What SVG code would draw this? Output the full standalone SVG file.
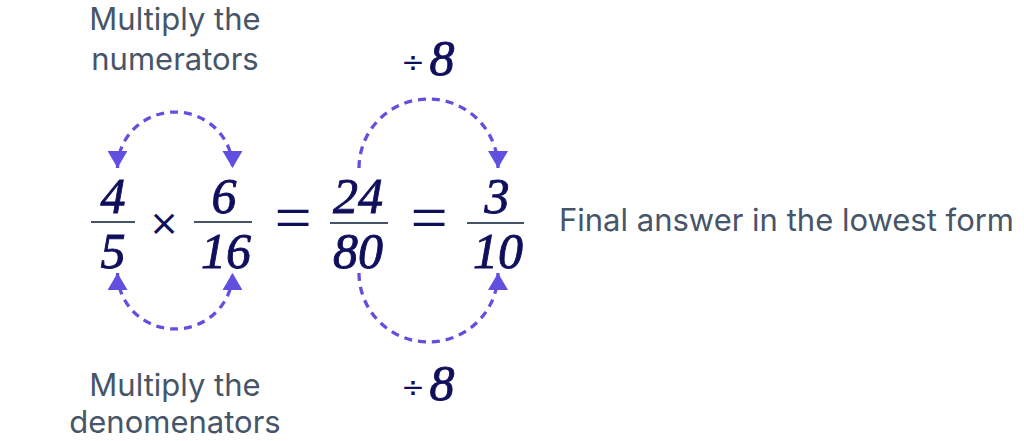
<svg xmlns="http://www.w3.org/2000/svg" width="1024" height="441" viewBox="0 0 1024 441">
<style>
.lbl{font-family:Inter,"Noto Sans",sans-serif;font-size:31px;fill:#475569}
.num{font-family:"Liberation Serif",serif;font-style:italic;font-size:50px;fill:#0f0f5c;stroke:#0f0f5c;stroke-width:0.9;text-anchor:middle}
.op{font-family:"DejaVu Sans",sans-serif;fill:#0f0f5c;text-anchor:middle}
.eq{font-family:"Liberation Serif",serif;font-size:66px;fill:#0f0f5c;text-anchor:middle}
.bar{stroke:#46546a;stroke-width:2}
.arc{fill:none;stroke:#614fe0;stroke-width:3.3;stroke-dasharray:8 6}
</style>
<defs>
<marker id="ah" viewBox="0 0 17 20" refX="17" refY="10" markerWidth="17" markerHeight="20" markerUnits="userSpaceOnUse" orient="auto-start-reverse">
<path d="M0,0 L17,10 L0,20 Z" fill="#614fe0"/>
</marker>
</defs>
<rect width="1024" height="441" fill="#ffffff"/>
<g id="label-numerators">
<text class="lbl" x="175" y="30" text-anchor="middle">Multiply the</text>
<text class="lbl" x="175" y="70" text-anchor="middle">numerators</text>
</g>
<g id="label-denominators">
<text class="lbl" x="175" y="396" text-anchor="middle">Multiply the</text>
<text class="lbl" x="175" y="433" text-anchor="middle">denomenators</text>
</g>
<g id="label-final">
<text class="lbl" x="559" y="231">Final answer in the lowest form</text>
</g>
<g id="div-top">
<text class="op" x="413" y="72" font-size="28">÷</text>
<text class="num" x="442" y="75">8</text>
</g>
<g id="div-bottom">
<text class="op" x="413" y="397" font-size="28">÷</text>
<text class="num" x="442" y="400">8</text>
</g>
<g id="frac-4-5">
<text class="num" x="113" y="213">4</text>
<line class="bar" x1="91" y1="222" x2="135" y2="222"/>
<text class="num" x="113" y="268">5</text>
</g>
<g id="times">
<text class="op" x="164" y="235" font-size="36">×</text>
</g>
<g id="frac-6-16">
<text class="num" x="224" y="213">6</text>
<line class="bar" x1="194" y1="222" x2="252" y2="222"/>
<text class="num" x="226" y="268">16</text>
</g>
<g id="eq1">
<text class="eq" x="293" y="240">=</text>
</g>
<g id="frac-24-80">
<text class="num" x="358" y="213">24</text>
<line class="bar" x1="330" y1="223" x2="388" y2="223"/>
<text class="num" x="358" y="268">80</text>
</g>
<g id="eq2">
<text class="eq" x="429" y="240">=</text>
</g>
<g id="frac-3-10">
<text class="num" x="497" y="213">3</text>
<line class="bar" x1="467" y1="223" x2="524" y2="223"/>
<text class="num" x="498" y="268">10</text>
</g>
<g id="connectors">
<path class="arc" d="M117.5,168 A57.5,56 0 0 1 232.5,168" marker-start="url(#ah)" marker-end="url(#ah)"/>
<path class="arc" d="M117.5,273 A57.5,56 0 0 0 232.5,273" marker-start="url(#ah)" marker-end="url(#ah)"/>
<path class="arc" d="M359,168 A69.5,69 0 0 1 498,168" marker-end="url(#ah)"/>
<path class="arc" d="M359,273 A69.5,69 0 0 0 498,273" marker-end="url(#ah)"/>
</g>
</svg>
